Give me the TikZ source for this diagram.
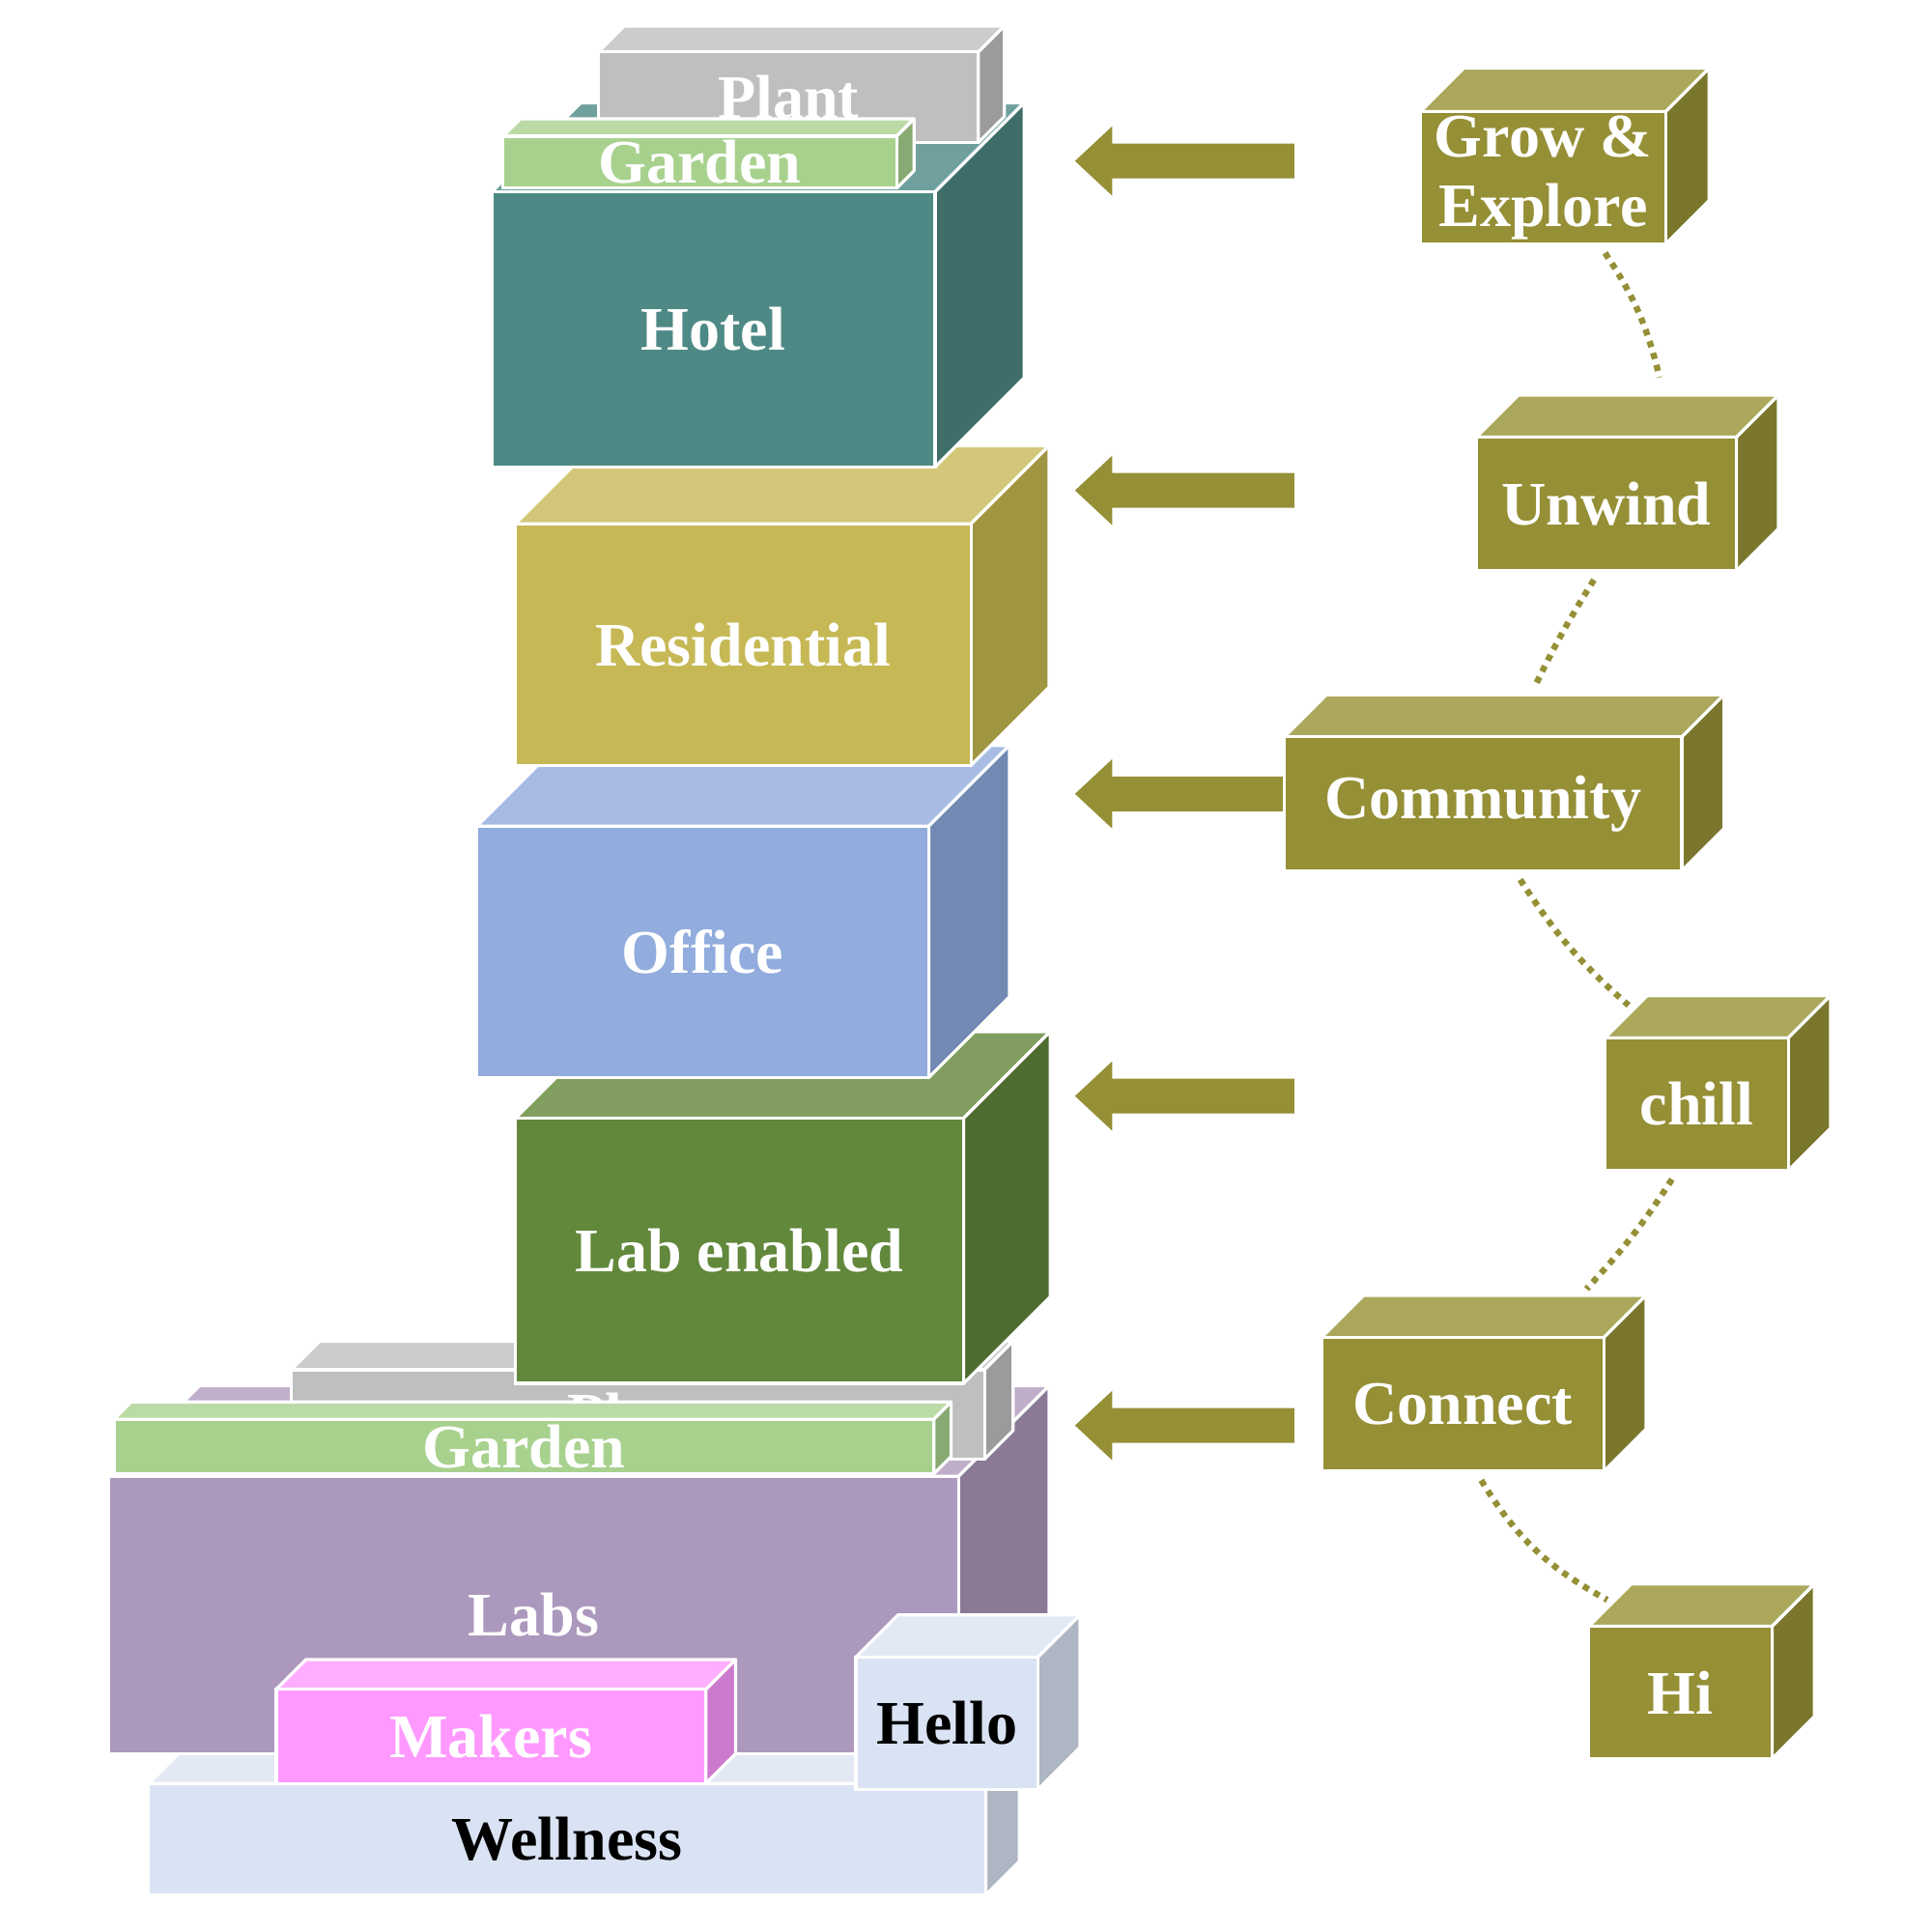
\documentclass[tikz,border=0pt]{standalone}
\usepackage{fontspec}
\setmainfont{Liberation Serif}
\definecolor{hotF}{HTML}{4E8985}\definecolor{hotT}{HTML}{6FA09D}\definecolor{hotS}{HTML}{3F6E6A}
\definecolor{resF}{HTML}{C6B955}\definecolor{resT}{HTML}{D3C87A}\definecolor{resS}{HTML}{A09642}
\definecolor{offF}{HTML}{91ACDD}\definecolor{offT}{HTML}{A8BBE3}\definecolor{offS}{HTML}{7189B3}
\definecolor{labF}{HTML}{62883B}\definecolor{labT}{HTML}{819E60}\definecolor{labS}{HTML}{4E6C2F}
\definecolor{lbsF}{HTML}{AD98BD}\definecolor{lbsT}{HTML}{C0AECB}\definecolor{lbsS}{HTML}{8A7A96}
\definecolor{garF}{HTML}{A8D18E}\definecolor{garT}{HTML}{BBDBA6}\definecolor{garS}{HTML}{88AA72}
\definecolor{plaF}{HTML}{BFBFBF}\definecolor{plaT}{HTML}{CCCCCC}\definecolor{plaS}{HTML}{9B9B9B}
\definecolor{makF}{HTML}{FF99FF}\definecolor{makT}{HTML}{FFADFF}\definecolor{makS}{HTML}{CC7ACC}
\definecolor{welF}{HTML}{DAE3F3}\definecolor{welT}{HTML}{E2E9F5}\definecolor{welS}{HTML}{AEB6C3}
\definecolor{oliF}{HTML}{958F36}\definecolor{oliT}{HTML}{ABA85C}\definecolor{oliS}{HTML}{7A772D}
\newcommand\cb[9]{%
  \fill[#7T,draw=white,line width=2.5pt,line join=round] (#2,#3) -- ({#2+#6},{#3-#6}) -- ({#4+#6},{#3-#6}) -- (#4,#3) -- cycle;
  \fill[#7S,draw=white,line width=2.5pt,line join=round] (#4,#3) -- ({#4+#6},{#3-#6}) -- ({#4+#6},{#5-#6}) -- (#4,#5) -- cycle;
  \node[box,fill=#7F,text=#8,minimum width={(#4-#2)*1pt},minimum height={(#5-#3)*1pt}] (#1) at ({(#2+#4)/2},{(#3+#5)/2}) {#9};}
\newcommand\arr[2]{%
  \fill[oliF] (1045,{#2-14}) -- (898,{#2-14}) -- (898,{#2-28}) -- (868,#2) -- (898,{#2+28}) -- (898,{#2+14}) -- (1045,{#2+14}) -- cycle;
  \coordinate (#1) at (868,#2);}
\tikzset{box/.style={draw=white,line width=2.5pt,inner sep=0pt,align=center,
  font=\bfseries\fontsize{50}{44}\selectfont},
  dots/.style={oliF,line width=5pt,dash pattern=on 5pt off 5pt,line cap=butt}}
\begin{document}
\begin{tikzpicture}[x=1pt,y=-1pt]
\useasboundingbox (0,0) rectangle (1560,1560);
\arr{a1}{130}\arr{a2}{396}\arr{a3}{641}\arr{a4}{885}\arr{a5}{1151}
% bottom stack
\cb{well}{120}{1440}{796}{1530}{27}{wel}{black}{Wellness}
\cb{labs}{88}{1192}{774}{1416}{73}{lbs}{white}{Labs}
\cb{plant2}{235}{1106}{795}{1178}{23}{pla}{white}{\raisebox{-12pt}{Plant}}
\cb{garden2}{92}{1146}{754}{1190}{14}{gar}{white}{Garden}
\cb{labfix}{88}{1192}{774}{1416}{0}{lbs}{white}{Labs}
% middle stack
\cb{laben}{416}{903}{778}{1117}{70}{lab}{white}{Lab enabled}
\cb{office}{385}{667}{750}{870}{65}{off}{white}{Office}
\cb{res}{416}{423}{784}{618}{63}{res}{white}{Residential}
\cb{hotel}{397}{155}{755}{377}{72}{hot}{white}{Hotel}
\cb{plant}{483}{42}{790}{115}{21}{pla}{white}{Plant}
\cb{garden1}{406}{110}{724}{152}{14}{gar}{white}{Garden}
\cb{makers}{223}{1364}{570}{1440}{24}{mak}{white}{Makers}
\cb{hello}{691}{1338}{838}{1445}{34}{wel}{black}{Hello}
% right column
\cb{grow}{1147}{90}{1345}{197}{35}{oli}{white}{Grow \&\\[12pt]Explore}
\cb{unwind}{1192}{353}{1402}{461}{34}{oli}{white}{Unwind}
\cb{comm}{1037}{595}{1358}{703}{34}{oli}{white}{Community}
\cb{chill}{1296}{838}{1444}{945}{34}{oli}{white}{chill}
\cb{connect}{1067}{1080}{1295}{1188}{34}{oli}{white}{Connect}
\cb{hi}{1283}{1313}{1431}{1420}{34}{oli}{white}{Hi}
\draw[dots] ([xshift=50pt,yshift=-6pt]grow.south) to[bend left=10] ([xshift=43pt,yshift=47pt]unwind.north);
\draw[dots] ([xshift=-10pt,yshift=-6pt]unwind.south) to[bend right=3] ([xshift=43pt,yshift=42pt]comm.north);
\draw[dots] ([xshift=30pt,yshift=-6pt]comm.south) to[bend right=8] ([xshift=-55pt,yshift=25pt]chill.north);
\draw[dots] ([xshift=-20pt,yshift=-6pt]chill.south) to[bend left=5] ([xshift=100pt,yshift=38pt]connect.north);
\draw[dots] ([xshift=15pt,yshift=-6pt]connect.south) to[bend right=15] ([xshift=16pt,yshift=20pt]hi.north west);
\end{tikzpicture}
\end{document}
